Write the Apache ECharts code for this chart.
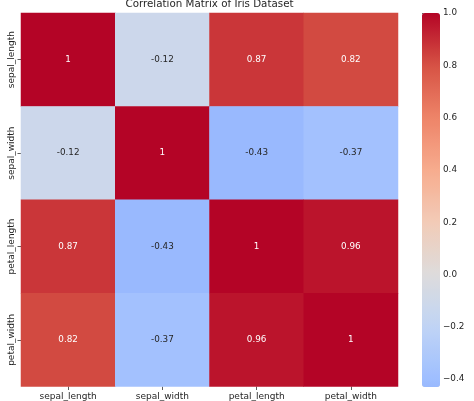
<!DOCTYPE html>
<html>
<head>
<meta charset="utf-8">
<script src="https://cdn.jsdelivr.net/npm/echarts@6/dist/echarts.min.js"></script>
<style>
html,body{margin:0;padding:0;background:#fff;}
#main{width:474px;height:401px;}
</style>
</head>
<body>
<div id="main"></div>
<script>
const categories = ['sepal_length', 'sepal_width', 'petal_length', 'petal_width'];
const rowSepalLength = [1, -0.12, 0.87, 0.82];
const rowSepalWidth = [-0.12, 1, -0.43, -0.37];
const rowPetalLength = [0.87, -0.43, 1, 0.96];
const rowPetalWidth = [0.82, -0.37, 0.96, 1];
const colorbarTicks = [-0.4, -0.2, 0.0, 0.2, 0.4, 0.6, 0.8, 1.0];
const titleText = 'Correlation Matrix of Iris Dataset';

const rows = [rowSepalLength, rowSepalWidth, rowPetalLength, rowPetalWidth];

// matplotlib "coolwarm" colormap reference stops
const coolwarmStops = ['#3b4cc0', '#5977e3', '#7b9ff9', '#9ebeff', '#c0d4f5', '#dddcdc',
                       '#f2cbb7', '#f7ac8e', '#ee8468', '#d65244', '#b40426'];
function hexToRgb(h) { return [parseInt(h.substr(1,2),16), parseInt(h.substr(3,2),16), parseInt(h.substr(5,2),16)]; }
function coolwarm(f) {
  f = Math.max(0, Math.min(1, f));
  const p = f * (coolwarmStops.length - 1);
  const i = Math.min(Math.floor(p), coolwarmStops.length - 2);
  const t = p - i;
  const a = hexToRgb(coolwarmStops[i]), b = hexToRgb(coolwarmStops[i + 1]);
  const c = a.map((v, k) => Math.round(v + (b[k] - v) * t));
  return 'rgb(' + c.join(',') + ')';
}

const allVals = rows.flat();
const vmin = Math.min.apply(null, allVals);
const vmax = Math.max.apply(null, allVals);
// seaborn center=0 : colours follow coolwarm((v+1)/2)
const nSteps = 48;
const rangeColors = [];
for (let i = 0; i <= nSteps; i++) {
  const v = vmin + (vmax - vmin) * i / nSteps;
  rangeColors.push(coolwarm((v + 1) / 2));
}

const heatData = [];
rows.forEach((row, yi) => {
  row.forEach((val, xi) => {
    heatData.push([xi, yi, val]);
  });
});

const fontFam = '"DejaVu Sans", sans-serif';
const chart = echarts.init(document.getElementById('main'), null, { renderer: 'canvas' });
chart.setOption({
  backgroundColor: '#ffffff',
  animation: false,
  textStyle: { fontFamily: fontFam },
  graphic: [{
    type: 'text',
    x: 209.5,
    y: 4,
    style: {
      text: titleText,
      fill: '#262626',
      font: '10.3px ' + fontFam,
      textAlign: 'center',
      textVerticalAlign: 'middle',
      verticalAlign: 'middle'
    }
  }],
  grid: [
    { left: 21, right: 76, top: 13, bottom: 14 },
    { left: 422, width: 18, top: 13, bottom: 14 }
  ],
  xAxis: [
    {
      type: 'category', data: categories, gridIndex: 0, position: 'bottom',
      axisLine: { show: false },
      axisTick: { show: true, alignWithLabel: true, length: 3.5, lineStyle: { color: '#333', width: 0.8 } },
      axisLabel: { fontSize: 9, color: '#1f1f1f', margin: 5.5, fontFamily: fontFam },
      splitLine: { show: false }
    },
    {
      type: 'value', gridIndex: 1, min: 0, max: 1, show: false
    }
  ],
  yAxis: [
    {
      type: 'category', data: categories, gridIndex: 0, inverse: true,
      axisLine: { show: false },
      axisTick: { show: true, alignWithLabel: true, length: 3.5, lineStyle: { color: '#333', width: 0.8 } },
      axisLabel: { fontSize: 9, color: '#1f1f1f', rotate: 90, margin: 5, fontFamily: fontFam },
      splitLine: { show: false }
    },
    {
      type: 'value', gridIndex: 1, min: vmin, max: vmax, position: 'right',
      axisLine: { show: false },
      splitLine: { show: false },
      axisTick: { show: true, length: 3.5, customValues: colorbarTicks, lineStyle: { color: '#333', width: 0.8 } },
      axisLabel: {
        show: true, fontSize: 8.8, color: '#1f1f1f', margin: 3, fontFamily: fontFam,
        customValues: colorbarTicks,
        formatter: v => v.toFixed(1).replace('-', '\u2212')
      }
    }
  ],
  visualMap: {
    type: 'continuous',
    seriesIndex: 0,
    min: vmin,
    max: vmax,
    calculable: false,
    hoverLink: false,
    orient: 'vertical',
    left: 422,
    top: 13,
    itemWidth: 18,
    itemHeight: 374,
    padding: 0,
    text: null,
    showLabel: false,
    inRange: { color: rangeColors }
  },
  series: [{
    type: 'heatmap',
    xAxisIndex: 0,
    yAxisIndex: 0,
    data: heatData,
    label: {
      show: true,
      fontSize: 8.8,
      fontFamily: fontFam,
      formatter: p => {
        const v = p.value[2];
        return (v < 0.4 ? '{d|' : '{w|') + String(v) + '}';
      },
      rich: {
        d: { color: '#262626', fontSize: 8.8, fontFamily: fontFam },
        w: { color: '#ffffff', fontSize: 8.8, fontFamily: fontFam }
      }
    },
    itemStyle: { borderWidth: 0 },
    emphasis: { disabled: true }
  }]
});
</script>
</body>
</html>
